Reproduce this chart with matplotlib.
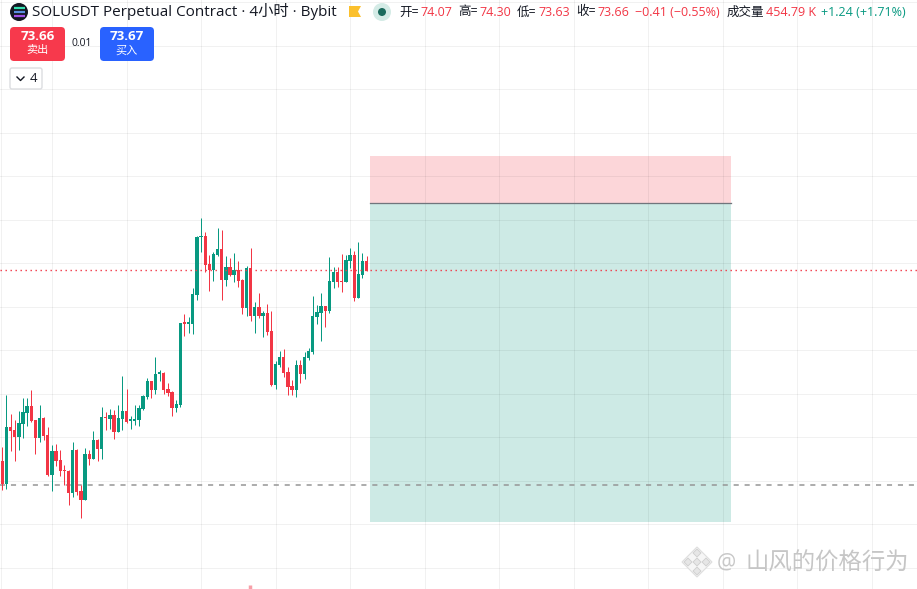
import matplotlib
matplotlib.use("Agg")
import matplotlib.pyplot as plt
from matplotlib.patches import Rectangle, FancyBboxPatch, Circle, Polygon

plt.rcParams['font.family'] = ['Open Sans', 'Noto Sans CJK SC', 'DejaVu Sans']

# OHLC of the 4h candles
opens = [64.91, 63.85, 66.47, 66.34, 66.01, 66.61, 67.12, 67.44, 66.80, 65.97,
         66.89, 66.11, 64.27, 65.37, 64.96, 64.50, 64.45, 63.44, 65.42, 63.53,
         63.12, 65.23, 65.00, 65.88, 65.46, 66.93, 66.84, 67.03, 66.24, 66.84,
         67.21, 66.77, 66.75, 66.80, 67.30, 67.85, 68.59, 68.18, 68.93, 68.96,
         68.22, 68.08, 67.35, 67.48, 71.26, 71.23, 71.21, 72.54, 75.21, 75.26,
         73.97, 73.69, 74.38, 74.66, 73.23, 73.83, 73.46, 73.69, 73.23, 71.94,
         73.78, 71.58, 71.99, 71.58, 71.71, 70.89, 68.40, 69.32, 69.69, 69.00,
         68.36, 68.17, 69.32, 68.91, 69.65, 69.92, 71.53, 71.71, 72.04, 71.81,
         73.14, 73.60, 73.19, 73.14, 74.11, 74.38, 72.40, 73.46, 74.11]
highs = [65.55, 67.94, 67.07, 66.80, 67.21, 67.81, 67.81, 68.17, 66.80, 67.49,
         66.93, 66.47, 65.65, 65.69, 65.42, 64.73, 64.50, 65.78, 65.46, 63.81,
         65.51, 65.42, 66.29, 65.92, 67.39, 67.16, 67.30, 67.26, 67.49, 68.82,
         68.22, 66.98, 67.49, 67.49, 67.94, 68.73, 68.59, 69.69, 69.10, 69.00,
         68.50, 68.13, 67.71, 71.26, 71.67, 71.53, 72.86, 75.26, 76.08, 75.44,
         74.38, 74.52, 75.62, 75.53, 74.34, 74.24, 74.47, 74.10, 73.28, 73.88,
         74.70, 72.22, 72.63, 71.81, 72.13, 71.81, 69.51, 69.97, 70.06, 69.23,
         68.63, 69.55, 69.55, 69.92, 70.11, 72.50, 72.08, 72.63, 72.04, 74.29,
         73.83, 73.83, 74.43, 74.38, 74.70, 74.57, 74.98, 74.47, 74.34]
lows = [63.58, 63.62, 65.37, 64.91, 65.42, 65.97, 66.52, 66.70, 65.23, 65.78,
        65.88, 64.22, 63.53, 64.68, 64.22, 63.81, 62.89, 63.26, 63.35, 62.29,
        63.12, 64.73, 65.00, 64.91, 65.00, 66.34, 66.38, 65.92, 66.24, 66.34,
        66.66, 66.38, 66.57, 66.52, 67.26, 67.76, 67.81, 68.00, 68.59, 68.00,
        67.90, 66.97, 67.16, 67.39, 70.66, 70.80, 70.75, 72.31, 74.52, 73.60,
        72.73, 73.19, 74.34, 72.31, 72.96, 73.42, 73.14, 72.91, 71.67, 71.58,
        71.35, 70.79, 71.48, 70.61, 70.70, 68.36, 68.22, 69.23, 68.77, 67.94,
        67.94, 67.85, 68.50, 68.68, 69.55, 69.83, 71.21, 70.43, 71.07, 71.71,
        72.86, 72.91, 72.68, 73.14, 73.78, 72.27, 72.40, 73.32, 73.65]
closes = [63.85, 66.47, 66.29, 66.01, 66.66, 67.16, 67.44, 66.75, 65.97, 66.89,
          66.06, 64.27, 65.37, 64.91, 64.45, 64.45, 63.44, 65.42, 63.48, 63.12,
          65.23, 65.00, 65.88, 65.46, 66.93, 66.90, 67.03, 66.24, 66.89, 67.21,
          66.70, 66.80, 66.84, 67.35, 67.90, 68.59, 68.18, 68.91, 68.95, 68.18,
          68.04, 67.35, 67.53, 71.26, 71.23, 71.26, 72.59, 75.21, 75.24, 73.92,
          73.69, 74.43, 74.66, 73.23, 73.83, 73.46, 73.69, 73.19, 71.94, 73.78,
          71.58, 71.99, 71.58, 71.71, 70.84, 68.40, 69.37, 69.69, 68.96, 68.31,
          68.17, 69.32, 68.91, 69.69, 69.97, 71.58, 71.76, 72.04, 71.81, 73.19,
          73.60, 73.14, 73.14, 74.15, 74.38, 72.40, 73.51, 74.11, 73.65]

# position tool and price lines
entry_price = 76.76
stop_price = 78.93
target_price = 62.11
position_start = 88.8
position_end = 176.0
last_price = 73.68
dashed_price = 63.81

grid_prices = list(range(60, 88, 2))
grid_bars = [-0.4, 12, 30, 48, 66, 84, 102, 120, 138, 156, 174, 192, 210]

# header texts
title = 'SOLUSDT Perpetual Contract · 4小时 · Bybit'
ohlc_labels = [('开=', 399), ('高=', 458), ('低=', 517), ('收=', 576)]
ohlc_values = [('74.07', 420), ('74.30', 479), ('73.63', 538), ('73.66', 597)]
change_text = '−0.41 (−0.55%)'
volume_label = '成交量'
volume_value = '454.79 K'
volume_change = '+1.24 (+1.71%)'
sell_price, buy_price, spread = '73.66', '73.67', '0.01'

UP = '#089981'
DOWN = '#f23645'
PX = 0.72  # one pixel in points at dpi 100

fig = plt.figure(figsize=(9.17, 5.89), dpi=100)
ax = fig.add_axes([0, 0, 1, 1])
ax.set_xlim(-0.556, 220.94)
ax.set_ylim(59.025, 86.106)
ax.axis('off')

# position tool
ax.add_patch(Rectangle((position_start, entry_price), position_end - position_start,
                       stop_price - entry_price, fc='#f23645', alpha=0.2, lw=0, zorder=1))
ax.add_patch(Rectangle((position_start, target_price), position_end - position_start,
                       entry_price - target_price, fc='#089981', alpha=0.2, lw=0, zorder=1))

for p in grid_prices:
    ax.axhline(p, color=(0, 0, 0, 0.055), lw=PX, zorder=2)
for b in grid_bars:
    ax.axvline(b, color=(0, 0, 0, 0.055), lw=PX, zorder=2)

ax.plot([position_start, position_end], [entry_price, entry_price], color='#70757c', lw=PX * 1.3, zorder=3)
ax.axhline(dashed_price, color='#949494', lw=PX * 1.5, dashes=(3.4, 3.9), zorder=3)
ax.axhline(last_price, color=DOWN, lw=1.0, dashes=(1, 2.6), zorder=6)

# candles
for i, (o, h, l, c) in enumerate(zip(opens, highs, lows, closes)):
    col = UP if c >= o else DOWN
    ax.plot([i, i], [l, h], color=col, lw=PX, solid_capstyle='butt', zorder=4)
    top, bot = max(o, c), min(o, c)
    ax.add_patch(Rectangle((i - 0.4, bot), 0.8, max(top - bot, 0.05), fc=col, lw=0,
                           zorder=5, antialiased=False))

# overlay in pixels for the interface parts
ui = fig.add_axes([0, 0, 1, 1], facecolor='none')
ui.set_xlim(0, 917)
ui.set_ylim(589, 0)
ui.axis('off')

TXT = '#131722'
ui.text(32, 12, title, fontsize=11, color=TXT, va='center')

# symbol logo
ui.add_patch(Circle((19, 12), 9, fc='#131722', lw=0))
for yy, cc in [(7.8, '#36e0b0'), (11.8, '#5a8fe0'), (15.8, '#a050e8')]:
    ui.plot([14, 25], [yy, yy], color=cc, lw=1.6, solid_capstyle='butt')

# flag and status dot
ui.add_patch(Polygon([(349, 6), (361, 6), (358, 11.5), (361, 17), (349, 17)], fc='#fbc02d', lw=0))
ui.add_patch(Circle((382, 12), 9, fc='#d4ebe6', lw=0))
ui.add_patch(Circle((382, 12), 4, fc='#1b6b5d', lw=0))

for s, x in ohlc_labels:
    ui.text(x, 12, s, fontsize=9, color=TXT, va='center', ha='left')
for s, x in ohlc_values:
    ui.text(x, 12, s, fontsize=9, color=DOWN, va='center', ha='left')
ui.text(635, 12, change_text, fontsize=9, color=DOWN, va='center')
ui.text(727, 12, volume_label, fontsize=9, color=TXT, va='center')
ui.text(766, 12, volume_value, fontsize=9, color=DOWN, va='center')
ui.text(821, 12, volume_change, fontsize=9, color=UP, va='center')

# buy and sell buttons
for x0, x1, col, price, word in [(10, 65, '#f7394c', sell_price, '卖出'),
                                 (100, 154, '#2962ff', buy_price, '买入')]:
    ui.add_patch(FancyBboxPatch((x0 + 4, 31), x1 - x0 - 8, 26, boxstyle='round,pad=4', fc=col, lw=0))
    ui.text((x0 + x1) / 2, 37, price, fontsize=9.6, color='white', weight='bold', ha='center', va='center')
    ui.text((x0 + x1) / 2, 51, word, fontsize=8, color='white', ha='center', va='center')
ui.text(82, 44, spread, fontsize=7.4, color=TXT, ha='center', va='center')

# collapsed indicators button
ui.add_patch(FancyBboxPatch((12, 70), 28, 17, boxstyle='round,pad=2', fc='white', ec='#dcdde0', lw=1))
ui.plot([17, 20.5, 24], [77, 80.5, 77], color=TXT, lw=1)
ui.text(33.5, 78.5, '4', fontsize=9.5, color=TXT, ha='center', va='center')

# small marker under the chart
ui.plot([250, 250], [585, 589], color='#f7a0a8', lw=2.5, solid_capstyle='butt')

# watermark
ui.add_patch(Polygon([(682, 562), (697, 547), (712, 562), (697, 577)], fc='#f6f6f6', ec='#dedede', lw=0.8))
for dx, dy in [(-9, 0), (9, 0), (0, -9), (0, 9), (0, 0)]:
    cx, cy = 697 + dx, 562 + dy
    ui.add_patch(Polygon([(cx - 4, cy), (cx, cy - 4), (cx + 4, cy), (cx, cy + 4)],
                         fc='#e6e6e6', ec='#cecece', lw=0.6))
ui.text(726, 563, '@', fontsize=15.5, color='#c8c8c8', ha='center', va='center')
ui.text(745, 564, '山风的价格行为', fontsize=16.8, color='#c6c6c6', va='center')

fig.savefig('out.png', dpi=100)
